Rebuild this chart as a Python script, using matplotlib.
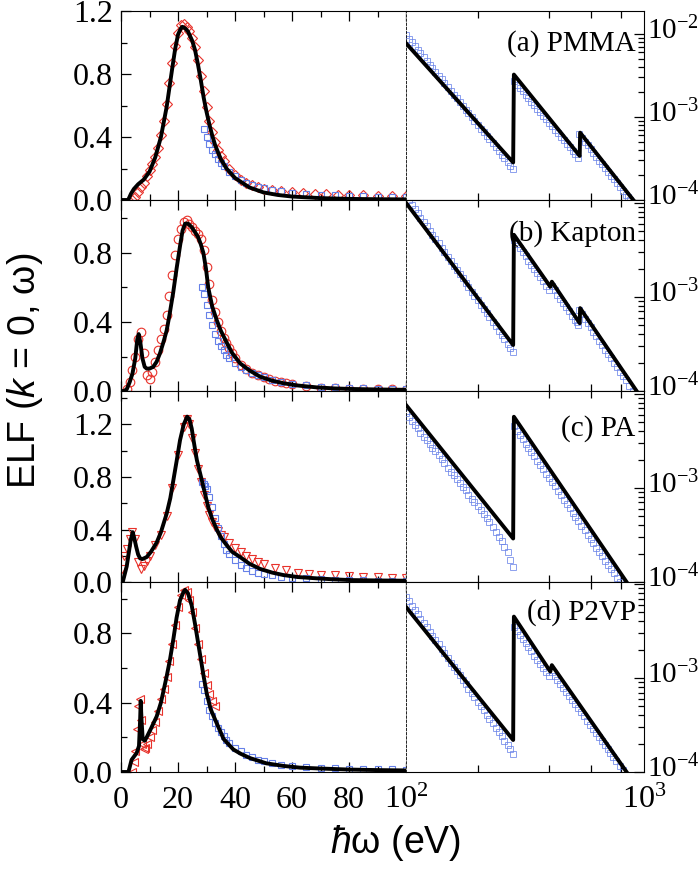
import numpy as np
import matplotlib
matplotlib.use('Agg')
import matplotlib.pyplot as plt
from matplotlib.ticker import MultipleLocator, FixedLocator, LogLocator, FuncFormatter, NullFormatter
from matplotlib.transforms import ScaledTranslation

plt.rcParams['font.family'] = 'Liberation Serif'
plt.rcParams['mathtext.fontset'] = 'custom'
plt.rcParams['mathtext.rm'] = 'Liberation Sans'
plt.rcParams['mathtext.it'] = 'Liberation Sans:italic'

# ---------------- low energy part (linear, 0-100 eV) ----------------
# model fit (black lines)
pmma_fit_e = [0, 2.5, 3.5, 4.5, 6, 8, 10, 12, 14, 16, 18, 19, 20, 21, 21.5, 22.5, 23.5, 25, 26, 27, 28, 29, 30,
              31, 32, 33, 35, 37, 40, 45, 50, 55, 60, 70, 80, 90, 100]
pmma_fit_y = [0, 0, 0.04, 0.07, 0.10, 0.13, 0.18, 0.27, 0.40, 0.59, 0.84, 0.96, 1.05, 1.09, 1.10, 1.09, 1.07, 1.01,
              0.95, 0.86, 0.76, 0.65, 0.56, 0.48, 0.41, 0.35, 0.26, 0.20, 0.14, 0.08, 0.048, 0.032, 0.022, 0.012,
              0.007, 0.005, 0.004]

kapton_fit_e = [0, 1, 2, 3, 4, 5, 5.7, 6.2, 6.8, 7.5, 8.3, 9, 10, 11.3, 12.5, 13.7, 15, 16, 17, 18.3, 19.5, 20.7,
                21.6, 22.5, 23.5, 24.8, 26, 27.1, 28, 28.9, 29.8, 30.6, 32, 33.6, 35, 37.1, 39, 41.8, 45, 48.8, 53,
                57, 62, 68.7, 75, 80.4, 90, 100]
kapton_fit_y = [0, 0, 0.01, 0.05, 0.10, 0.19, 0.30, 0.33, 0.28, 0.19, 0.14, 0.13, 0.13, 0.14, 0.17, 0.22, 0.29,
                0.35, 0.44, 0.57, 0.71, 0.84, 0.93, 0.97, 0.97, 0.95, 0.92, 0.89, 0.85, 0.80, 0.71, 0.60, 0.49,
                0.41, 0.35, 0.28, 0.22, 0.16, 0.12, 0.083, 0.06, 0.045, 0.032, 0.021, 0.015, 0.012, 0.009, 0.007]

pa_fit_e = [0, 0.6, 1.3, 2, 2.7, 3.4, 4.1, 4.7, 5.3, 6, 6.7, 7.5, 9, 10.5, 12.5, 14, 16, 17.3, 18.4, 19.5, 20.7,
            22, 23.2, 24, 24.8, 25.6, 26.6, 27.5, 28.3, 29.5, 30.6, 32, 33.6, 35, 37.1, 39, 41.8, 45, 48.8, 53, 57,
            62, 68.7, 75, 80.4, 90, 100]
pa_fit_y = [0, 0, 0.06, 0.12, 0.22, 0.32, 0.38, 0.33, 0.27, 0.21, 0.18, 0.175, 0.19, 0.23, 0.30, 0.38, 0.52, 0.64,
            0.78, 0.92, 1.08, 1.20, 1.26, 1.24, 1.17, 1.06, 0.93, 0.85, 0.78, 0.67, 0.57, 0.48, 0.40, 0.34, 0.28,
            0.23, 0.19, 0.14, 0.10, 0.072, 0.053, 0.038, 0.028, 0.02, 0.015, 0.012, 0.01]

p2vp_fit_e = [0, 2.6, 3.7, 5.5, 6.3, 6.7, 6.9, 7.2, 7.6, 8.3, 9, 10.5, 12.5, 14, 16, 17.2, 18.4, 19.5, 20.7, 22,
              22.5, 23.5, 24.8, 26, 27.7, 29, 30.1, 31.5, 33.6, 36, 39.4, 42, 45.3, 51, 57, 62.8, 70, 80, 90, 100]
p2vp_fit_y = [0, 0, 0.07, 0.11, 0.15, 0.30, 0.41, 0.30, 0.19, 0.18, 0.20, 0.25, 0.32, 0.40, 0.55, 0.65, 0.77,
              0.89, 0.99, 1.04, 1.05, 1.03, 0.96, 0.85, 0.68, 0.55, 0.45, 0.36, 0.28, 0.19, 0.13, 0.105, 0.08,
              0.05, 0.035, 0.025, 0.02, 0.014, 0.011, 0.009]

# optical data (red open symbols)
pmma_opt_e = [4, 5, 6, 7, 8, 9, 10, 11, 12, 13, 14, 15, 16, 17, 18, 19, 20, 21, 22, 23, 24, 25, 26, 27, 28, 29,
              30, 31, 32, 33, 34, 35, 36, 38, 40, 42, 44, 46, 48, 50, 53, 56, 60, 64, 68, 72, 76, 80, 85, 90, 95, 100]
pmma_opt_y = [0, 0.02, 0.05, 0.08, 0.11, 0.15, 0.19, 0.23, 0.27, 0.33, 0.41, 0.50, 0.61, 0.74, 0.87, 0.98, 1.06,
              1.11, 1.12, 1.10, 1.07, 1.03, 0.97, 0.89, 0.79, 0.69, 0.59, 0.50, 0.43, 0.37, 0.32, 0.28, 0.25, 0.20,
              0.16, 0.13, 0.11, 0.095, 0.083, 0.073, 0.062, 0.055, 0.048, 0.043, 0.040, 0.037, 0.034, 0.032, 0.030,
              0.028, 0.026, 0.025]

kapton_opt_e = [2, 3, 4, 5, 6, 7, 8, 9, 10, 11, 12, 13, 14, 15, 16, 17, 18, 19, 20, 21, 22, 23, 24, 25, 26, 27, 28,
                29, 30, 31, 32, 33, 34, 35, 36, 37, 38, 39, 40, 42, 44, 46, 48, 50, 52, 54, 56, 58, 60, 65, 70, 75,
                80, 85, 90, 95, 100]
kapton_opt_y = [0.01, 0.05, 0.12, 0.20, 0.30, 0.34, 0.22, 0.09, 0.07, 0.11, 0.17, 0.24, 0.30, 0.36, 0.44, 0.55,
                0.67, 0.79, 0.88, 0.94, 0.98, 0.99, 0.97, 0.95, 0.93, 0.91, 0.88, 0.82, 0.72, 0.62, 0.53, 0.46,
                0.40, 0.35, 0.31, 0.28, 0.25, 0.22, 0.19, 0.15, 0.125, 0.105, 0.09, 0.08, 0.07, 0.06, 0.052, 0.045,
                0.038, 0.028, 0.02, 0.016, 0.013, 0.011, 0.01, 0.009, 0.008]

pa_opt_e = [0.5, 1, 2, 3, 4, 5, 6, 7, 8, 9, 10, 12, 14, 16, 18, 20, 22, 23, 24, 25, 26, 27, 28, 29, 30, 31, 32, 33,
            34, 35, 36, 38, 40, 42, 44, 46, 48, 50, 54, 58, 62, 66, 70, 75, 80, 85, 90, 95, 100]
pa_opt_y = [0.10, 0.20, 0.25, 0.33, 0.38, 0.33, 0.15, 0.10, 0.12, 0.16, 0.20, 0.28, 0.36, 0.50, 0.72, 0.97, 1.18,
            1.24, 1.20, 1.10, 0.98, 0.86, 0.76, 0.66, 0.58, 0.51, 0.46, 0.42, 0.39, 0.36, 0.34, 0.30, 0.26, 0.23,
            0.20, 0.175, 0.155, 0.14, 0.11, 0.09, 0.072, 0.06, 0.052, 0.05, 0.045, 0.04, 0.037, 0.034, 0.032]

p2vp_opt_e = [4, 4.5, 5, 5.5, 6, 6.5, 7, 7.5, 8, 8.5, 9, 10, 11, 12, 13, 14, 15, 16, 17, 18, 19, 20, 21, 22, 23,
              24, 25, 26, 27, 28, 29, 30, 31, 32, 33]
p2vp_opt_y = [0, 0.06, 0.12, 0.25, 0.38, 0.42, 0.30, 0.16, 0.13, 0.14, 0.16, 0.20, 0.24, 0.29, 0.35, 0.42, 0.48,
              0.55, 0.64, 0.74, 0.85, 0.95, 1.02, 1.05, 1.04, 0.99, 0.92, 0.83, 0.74, 0.65, 0.57, 0.50, 0.45, 0.41,
              0.38]

# second data set (blue open squares), low energy
pmma_sq_e = [29, 30, 31, 32, 33, 34, 35, 36, 38, 40, 42, 44, 46, 48, 50, 53, 56, 60, 65, 70, 75, 80, 85, 90, 95, 100]
pmma_sq_y = [0.45, 0.40, 0.355, 0.32, 0.29, 0.26, 0.235, 0.215, 0.18, 0.15, 0.128, 0.11, 0.096, 0.084, 0.074,
             0.063, 0.055, 0.047, 0.040, 0.034, 0.030, 0.027, 0.024, 0.022, 0.020, 0.019]

kapton_sq_e = [28.3, 29, 30, 31, 32, 33, 34, 35, 36, 37, 38, 40, 42, 44, 46, 48, 50, 53, 56, 60, 65, 70, 75, 80,
               85, 90, 95, 100]
kapton_sq_y = [0.60, 0.56, 0.50, 0.44, 0.38, 0.33, 0.29, 0.26, 0.235, 0.21, 0.19, 0.165, 0.14, 0.12, 0.105, 0.092,
               0.08, 0.066, 0.055, 0.043, 0.033, 0.026, 0.021, 0.018, 0.016, 0.014, 0.013, 0.012]

pa_sq_e = [28.5, 29, 29.5, 30, 31, 32, 33, 34, 35, 36, 37, 38, 40, 42, 44, 46, 48, 50, 53, 56, 60, 65, 70, 75, 80,
           85, 90, 95, 100]
pa_sq_y = [0.76, 0.75, 0.73, 0.71, 0.65, 0.57, 0.49, 0.41, 0.35, 0.29, 0.245, 0.21, 0.165, 0.13, 0.105, 0.085,
           0.072, 0.062, 0.05, 0.042, 0.034, 0.027, 0.022, 0.018, 0.015, 0.013, 0.011, 0.01, 0.009]

p2vp_sq_e = [28.3, 29, 30, 31, 32, 33, 34, 35, 36, 37, 38, 40, 42, 44, 46, 48, 50, 53, 56, 60, 65, 70, 75, 80, 85,
             90, 95, 100]
p2vp_sq_y = [0.51, 0.47, 0.41, 0.36, 0.32, 0.285, 0.255, 0.23, 0.205, 0.185, 0.165, 0.14, 0.12, 0.10, 0.085,
             0.072, 0.062, 0.05, 0.042, 0.034, 0.028, 0.024, 0.021, 0.019, 0.017, 0.016, 0.015, 0.014]

# ---------------- high energy part (log-log, 100-1000 eV) ----------------
pmma_fit_hi_e = [100, 282, 284, 537, 539, 902]
pmma_fit_hi_y = [7.7e-3, 2.83e-4, 3.23e-3, 3.39e-4, 6.46e-4, 1.0e-4]
kapton_fit_hi_e = [100, 282, 284, 404, 410, 537, 539, 931]
kapton_fit_hi_y = [1.0e-2, 3.08e-4, 4.57e-3, 1.28e-3, 1.45e-3, 5.25e-4, 7.6e-4, 1.0e-4]
pa_fit_hi_e = [100, 282, 284, 845]
pa_fit_hi_y = [7.6e-3, 2.9e-4, 5.7e-3, 1.0e-4]
p2vp_fit_hi_e = [100, 282, 284, 404, 410, 845]
p2vp_fit_hi_y = [5.7e-3, 2.19e-4, 4.5e-3, 1.17e-3, 1.37e-3, 1.0e-4]

# blue squares above 100 eV, read as two interleaved lists (a, b) per material
pmma_sq_hi_ea = [100, 106, 112, 119, 126, 133, 141, 150, 159, 168, 178, 189, 200, 212, 224, 238, 252, 267, 282,
                 284, 300, 318, 336, 356, 377, 399, 422, 447, 473, 501, 530,
                 532, 563, 596, 631, 668, 707, 748, 792, 838, 873]
pmma_sq_hi_ya = [9.7e-3, 7.87e-3, 6.46e-3, 5.20e-3, 4.23e-3, 3.48e-3, 2.83e-3, 2.26e-3, 1.84e-3, 1.51e-3, 1.22e-3,
                 9.87e-4, 8.05e-4, 6.53e-4, 5.37e-4, 4.31e-4, 3.51e-4, 2.86e-4, 2.35e-4,
                 2.69e-3, 2.23e-3, 1.84e-3, 1.52e-3, 1.25e-3, 1.03e-3, 8.5e-4, 7.03e-4, 5.78e-4, 4.77e-4, 3.93e-4,
                 3.24e-4,
                 6.2e-4, 5.03e-4, 4.08e-4, 3.31e-4, 2.68e-4, 2.18e-4, 1.77e-4, 1.43e-4, 1.16e-4, 1.0e-4]
pmma_sq_hi_eb = [103, 109, 115, 122, 129, 137, 145, 154, 163, 173, 183, 194, 206, 218, 231, 245, 259, 274,
                 292, 309, 327, 346, 366, 388, 410, 434, 460, 487, 515,
                 547, 579, 613, 649, 687, 727, 770, 815, 855]
pmma_sq_hi_yb = [8.74e-3, 7.13e-3, 5.80e-3, 4.69e-3, 3.84e-3, 3.14e-3, 2.53e-3, 2.04e-3, 1.67e-3, 1.36e-3, 1.10e-3,
                 8.91e-4, 7.25e-4, 5.92e-4, 4.81e-4, 3.89e-4, 3.17e-4, 2.59e-4,
                 2.45e-3, 2.03e-3, 1.67e-3, 1.38e-3, 1.13e-3, 9.36e-4, 7.73e-4, 6.37e-4, 5.25e-4, 4.33e-4, 3.57e-4,
                 5.58e-4, 4.53e-4, 3.67e-4, 2.98e-4, 2.42e-4, 1.96e-4, 1.59e-4, 1.29e-4, 1.08e-4]

kapton_sq_hi_ea = [100, 106, 112, 119, 126, 133, 141, 150, 159, 168, 178, 189, 200, 212, 224, 238, 252, 267, 282,
                   284, 300, 318, 336, 356, 377, 399, 410, 433, 458, 485, 513, 530,
                   532, 563, 596, 631, 668, 707, 748, 792, 838, 899]
kapton_sq_hi_ya = [1.18e-2, 9.53e-3, 7.78e-3, 6.22e-3, 5.04e-3, 4.13e-3, 3.33e-3, 2.65e-3, 2.14e-3, 1.75e-3,
                   1.42e-3, 1.13e-3, 9.2e-4, 7.43e-4, 6.07e-4, 4.85e-4, 3.93e-4, 3.18e-4, 2.6e-4,
                   4.04e-3, 3.31e-3, 2.69e-3, 2.20e-3, 1.79e-3, 1.46e-3, 1.19e-3, 1.30e-3, 1.06e-3, 8.6e-4, 7.0e-4,
                   5.69e-4, 5.04e-4,
                   7.3e-4, 5.89e-4, 4.75e-4, 3.82e-4, 3.08e-4, 2.48e-4, 2.0e-4, 1.61e-4, 1.30e-4, 1.0e-4]
kapton_sq_hi_eb = [103, 109, 115, 122, 129, 137, 145, 154, 163, 173, 183, 194, 206, 218, 231, 245, 259, 274,
                   292, 309, 327, 346, 366, 388, 421, 445, 471, 499, 521,
                   547, 579, 613, 649, 687, 727, 770, 815, 868]
kapton_sq_hi_yb = [1.06e-2, 8.61e-3, 6.96e-3, 5.60e-3, 4.56e-3, 3.71e-3, 2.97e-3, 2.38e-3, 1.94e-3, 1.58e-3,
                   1.27e-3, 1.02e-3, 8.27e-4, 6.72e-4, 5.43e-4, 4.37e-4, 3.54e-4, 2.88e-4,
                   3.66e-3, 2.98e-3, 2.43e-3, 1.98e-3, 1.62e-3, 1.32e-3, 1.17e-3, 9.55e-4, 7.76e-4, 6.31e-4, 5.36e-4,
                   6.56e-4, 5.29e-4, 4.26e-4, 3.43e-4, 2.76e-4, 2.23e-4, 1.79e-4, 1.45e-4, 1.14e-4]

pa_sq_hi_ea = [100, 106, 112, 119, 126, 133, 141, 150, 159, 168, 178, 189, 200, 212, 224, 238, 252, 267, 282,
               284, 300, 318, 336, 356, 377, 399, 422, 447, 473, 501, 530, 563, 596, 631, 668, 707, 748, 793]
pa_sq_hi_ya = [6.25e-3, 5.14e-3, 4.28e-3, 3.50e-3, 2.91e-3, 2.44e-3, 2.01e-3, 1.64e-3, 1.36e-3, 1.135e-3, 9.4e-4,
               7.7e-4, 6.43e-4, 5.31e-4, 4.35e-4, 3.43e-4, 2.70e-4, 2.06e-4, 1.46e-4,
               4.50e-3, 3.67e-3, 2.96e-3, 2.41e-3, 1.95e-3, 1.57e-3, 1.27e-3, 1.035e-3, 8.36e-4, 6.78e-4, 5.47e-4,
               4.44e-4, 3.55e-4, 2.87e-4, 2.32e-4, 1.88e-4, 1.52e-4, 1.24e-4, 1.0e-4]
pa_sq_hi_eb = [103, 109, 115, 122, 129, 137, 145, 154, 163, 173, 183, 194, 206, 218, 231, 245, 259, 274,
               292, 309, 327, 346, 366, 388, 410, 434, 460, 487, 515, 546, 579, 613, 649, 687, 727, 770]
pa_sq_hi_yb = [5.67e-3, 4.69e-3, 3.87e-3, 3.19e-3, 2.66e-3, 2.21e-3, 1.82e-3, 1.49e-3, 1.24e-3, 1.03e-3, 8.51e-4,
               7.04e-4, 5.84e-4, 4.81e-4, 3.86e-4, 3.04e-4, 2.36e-4, 1.73e-4,
               4.06e-3, 3.30e-3, 2.67e-3, 2.17e-3, 1.75e-3, 1.41e-3, 1.15e-3, 9.30e-4, 7.53e-4, 6.09e-4, 4.93e-4,
               3.97e-4, 3.19e-4, 2.58e-4, 2.09e-4, 1.69e-4, 1.37e-4, 1.11e-4]

p2vp_sq_hi_ea = [100, 106, 112, 119, 126, 133, 141, 150, 159, 168, 178, 189, 200, 212, 224, 238, 252, 267, 282,
                 284, 300, 318, 336, 356, 377, 399, 410, 433, 458, 485, 513, 543, 575, 609, 645, 683, 723, 766, 815]
p2vp_sq_hi_ya = [7.3e-3, 5.88e-3, 4.80e-3, 3.84e-3, 3.10e-3, 2.54e-3, 2.05e-3, 1.63e-3, 1.31e-3, 1.07e-3, 8.64e-4,
                 6.92e-4, 5.61e-4, 4.53e-4, 3.69e-4, 2.95e-4, 2.39e-4, 1.93e-4, 1.57e-4,
                 3.5e-3, 2.88e-3, 2.34e-3, 1.92e-3, 1.56e-3, 1.27e-3, 1.04e-3, 1.15e-3, 9.51e-4, 7.81e-4, 6.40e-4,
                 5.26e-4, 4.31e-4, 3.53e-4, 2.89e-4, 2.37e-4, 1.94e-4, 1.59e-4, 1.30e-4, 1.04e-4]
p2vp_sq_hi_eb = [103, 109, 115, 122, 129, 137, 145, 154, 163, 173, 183, 194, 206, 218, 231, 245, 259, 274,
                 292, 309, 327, 346, 366, 388, 421, 445, 471, 499, 528, 559, 592, 627, 664, 703, 744, 790]
p2vp_sq_hi_yb = [6.55e-3, 5.31e-3, 4.29e-3, 3.45e-3, 2.81e-3, 2.28e-3, 1.83e-3, 1.46e-3, 1.18e-3, 9.62e-4, 7.73e-4,
                 6.23e-4, 5.04e-4, 4.09e-4, 3.30e-4, 2.66e-4, 2.15e-4, 1.74e-4,
                 3.17e-3, 2.60e-3, 2.12e-3, 1.73e-3, 1.41e-3, 1.15e-3, 1.05e-3, 8.62e-4, 7.07e-4, 5.80e-4, 4.76e-4,
                 3.90e-4, 3.19e-4, 2.62e-4, 2.14e-4, 1.76e-4, 1.44e-4, 1.16e-4]

names = ['(a) PMMA', '(b) Kapton', '(c) PA', '(d) P2VP']
opt_markers = ['D', 'o', 'v', '<']
lin_top = [1.2, 1.107, 1.455, 1.095]
log_top = [1.88e-2, 1.07e-2, 1.07e-2, 1.05e-2]
log_labels = [[1e-4, 1e-3, 1e-2], [1e-4, 1e-3], [1e-4, 1e-3], [1e-4, 1e-3]]
name_y = [0.83, 0.827, 0.806, 0.84]

fit_lo = [(pmma_fit_e, pmma_fit_y), (kapton_fit_e, kapton_fit_y), (pa_fit_e, pa_fit_y), (p2vp_fit_e, p2vp_fit_y)]
opt_lo = [(pmma_opt_e, pmma_opt_y), (kapton_opt_e, kapton_opt_y), (pa_opt_e, pa_opt_y), (p2vp_opt_e, p2vp_opt_y)]
sq_lo = [(pmma_sq_e, pmma_sq_y), (kapton_sq_e, kapton_sq_y), (pa_sq_e, pa_sq_y), (p2vp_sq_e, p2vp_sq_y)]
fit_hi = [(pmma_fit_hi_e, pmma_fit_hi_y), (kapton_fit_hi_e, kapton_fit_hi_y), (pa_fit_hi_e, pa_fit_hi_y),
          (p2vp_fit_hi_e, p2vp_fit_hi_y)]
sq_hi = [(pmma_sq_hi_ea + pmma_sq_hi_eb, pmma_sq_hi_ya + pmma_sq_hi_yb),
         (kapton_sq_hi_ea + kapton_sq_hi_eb, kapton_sq_hi_ya + kapton_sq_hi_yb),
         (pa_sq_hi_ea + pa_sq_hi_eb, pa_sq_hi_ya + pa_sq_hi_yb),
         (p2vp_sq_hi_ea + p2vp_sq_hi_eb, p2vp_sq_hi_ya + p2vp_sq_hi_yb)]

red = '#e8322b'
blue = '#6680e8'

fig = plt.figure(figsize=(7, 8.73), dpi=100)
rows = [(0.7709, 0.2165), (0.5521, 0.2188), (0.3333, 0.2188), (0.1157, 0.2176)]


def pow10(v, p):
    return r'$\mathregular{10^{%d}}$' % round(np.log10(v))


for i in range(4):
    b, h = rows[i]
    axL = fig.add_axes([0.1729, b, 0.4071, h])
    axR = fig.add_axes([0.58, b, 0.34, h])

    # linear part
    ms = 4.8 if opt_markers[i] == 'D' else 6.2
    axL.plot(opt_lo[i][0], opt_lo[i][1], ls='none', marker=opt_markers[i], mfc='none', mec=red,
             ms=ms, mew=0.8, zorder=2)
    axL.plot(sq_lo[i][0], sq_lo[i][1], ls='none', marker='s', mfc='none', mec=blue, ms=5, mew=0.8, zorder=2)
    axL.plot(fit_lo[i][0], fit_lo[i][1], color='k', lw=2.8, zorder=3)
    axL.set_xlim(0, 100)
    axL.set_ylim(0, lin_top[i])
    axL.spines['right'].set_visible(False)
    axL.xaxis.set_major_locator(MultipleLocator(20))
    axL.xaxis.set_minor_locator(MultipleLocator(10))
    axL.yaxis.set_major_locator(MultipleLocator(0.4))
    axL.yaxis.set_minor_locator(MultipleLocator(0.2))
    axL.yaxis.set_major_formatter(FuncFormatter(lambda v, p: '%.1f' % v))
    axL.tick_params(which='both', direction='in', top=True, right=False, width=0.9, labelsize=23)
    axL.tick_params(which='major', length=7)
    axL.tick_params(which='minor', length=4)
    axL.tick_params(axis='y', pad=6)
    axL.tick_params(axis='x', pad=10)
    if i == 3:
        axL.xaxis.set_major_formatter(FuncFormatter(lambda v, p: '' if v >= 100 else '%d' % v))
    else:
        axL.xaxis.set_major_formatter(NullFormatter())

    # log part
    axR.plot(sq_hi[i][0], sq_hi[i][1], ls='none', marker='s', mfc='none', mec=blue, ms=4.8, mew=0.7,
             alpha=0.75, zorder=2)
    axR.plot(fit_hi[i][0], fit_hi[i][1], color='k', lw=2.8, zorder=3)
    axR.set_xscale('log')
    axR.set_yscale('log')
    axR.set_xlim(100, 1000)
    axR.set_ylim(1e-4, log_top[i])
    axR.spines['left'].set_linestyle((0, (3, 2)))
    axR.spines['left'].set_linewidth(0.6)
    axR.yaxis.tick_right()
    axR.xaxis.set_major_locator(FixedLocator([100, 1000]))
    axR.xaxis.set_minor_locator(FixedLocator([200, 400, 600, 800]))
    axR.xaxis.set_minor_formatter(NullFormatter())
    if i == 3:
        axR.xaxis.set_major_formatter(FuncFormatter(pow10))
    else:
        axR.xaxis.set_major_formatter(NullFormatter())
    axR.yaxis.set_major_locator(FixedLocator([1e-4, 1e-3, 1e-2]))
    axR.yaxis.set_minor_locator(LogLocator(base=10, subs=np.arange(2, 10)))
    axR.yaxis.set_minor_formatter(NullFormatter())
    labs = log_labels[i]
    axR.yaxis.set_major_formatter(FuncFormatter(
        lambda v, p, labs=labs: pow10(v, p) if any(abs(v - l) < 1e-9 for l in labs) else ''))
    axR.tick_params(which='both', direction='in', top=True, left=False, right=True, width=0.9)
    axR.tick_params(which='major', length=7)
    axR.tick_params(which='minor', length=4)
    axR.tick_params(axis='x', which='minor', length=5)
    axR.tick_params(axis='x', which='major', length=0, pad=10, labelsize=23)
    axR.tick_params(axis='y', pad=2, labelsize=21)
    # the log labels sit a little above their ticks in the original
    up = ScaledTranslation(0, 4 / 72, fig.dpi_scale_trans)
    for t in axR.yaxis.get_major_ticks():
        t.label2.set_transform(t.label2.get_transform() + up)
    axR.text(0.965, name_y[i], names[i], transform=axR.transAxes, ha='right', va='center', fontsize=21)

fig.text(0.036, 0.575, r'ELF ($k$ = 0, ω)', rotation=90, ha='center', va='center',
         fontsize=27, family='Liberation Sans')
fig.text(0.565, 0.034, r'$\hbar$ω (eV)', ha='center', va='center', fontsize=27, family='Liberation Sans')

fig.savefig('out.png', dpi=100)
